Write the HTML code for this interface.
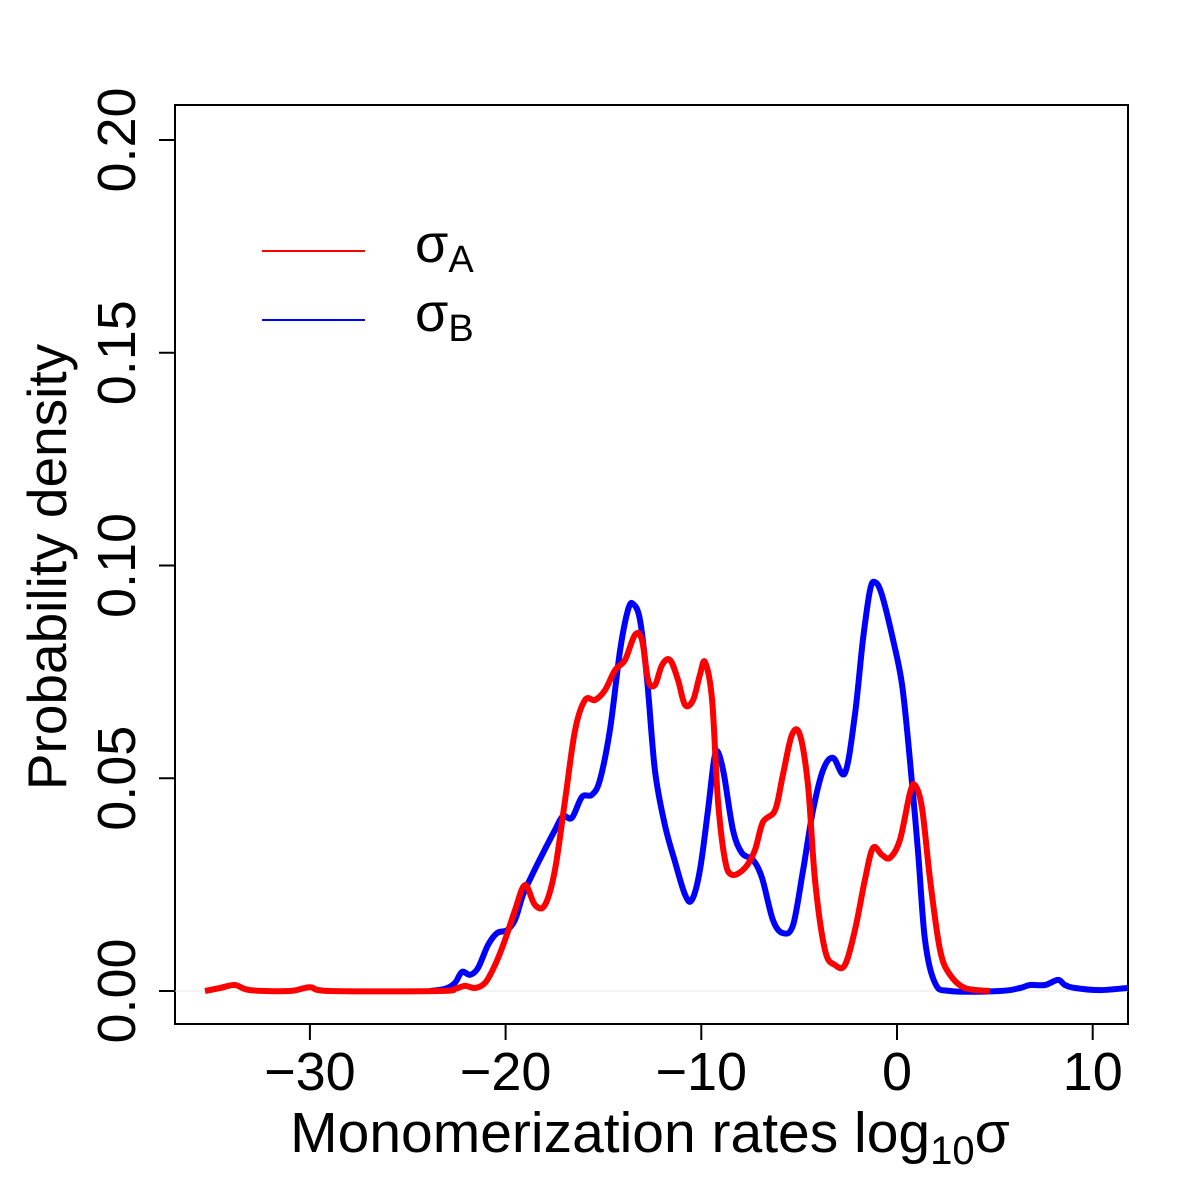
<!DOCTYPE html>
<html><head><meta charset="utf-8"><style>
html,body{margin:0;padding:0;background:#fff;}
svg{display:block;font-family:"Liberation Sans",sans-serif;}
</style></head><body>
<svg id="chart" width="1200" height="1200" viewBox="0 0 1200 1200">
<defs><clipPath id="clip"><rect x="175" y="105" width="953" height="919"/></clipPath></defs>
<rect x="175" y="105" width="953" height="919" fill="none" stroke="#000" stroke-width="2"/>
<g id="xaxis"></g>
<g id="yaxis"></g>
<line x1="175" x2="1128" y1="991" y2="991" stroke="#e6e6e6" stroke-width="1"/>
<g id="series" clip-path="url(#clip)"></g>
<text x="650" y="1152" font-size="57" text-anchor="middle">Monomerization rates log<tspan font-size="40" dy="12">10</tspan><tspan dy="-12">σ</tspan></text>
<text transform="translate(66,567) rotate(-90)" font-size="55" text-anchor="middle">Probability density</text>
<g>
<line x1="262" x2="365" y1="251" y2="251" stroke="#f00" stroke-width="2"/>
<text x="415" y="262" font-size="54">σ<tspan font-size="38" dy="10">A</tspan></text>
<line x1="262" x2="365" y1="320" y2="320" stroke="#00f" stroke-width="2"/>
<text x="415" y="331" font-size="54">σ<tspan font-size="38" dy="10">B</tspan></text>
</g>
</svg>
<script>
const xTicks=[-30,-20,-10,0,10];
const xTickLabels=["\u221230","\u221220","\u221210","0","10"];
const yTicks=[0,0.05,0.10,0.15,0.20];
const yTickLabels=["0.00","0.05","0.10","0.15","0.20"];
const redX=[-35.36,-34.59,-33.83,-33.06,-31.02,-30.0,-28.97,-23.35,-22.59,-22.07,-21.56,-21.05,-20.54,-20.03,-19.52,-19.01,-18.50,-17.99,-17.48,-16.96,-16.45,-15.94,-15.43,-14.92,-14.41,-13.90,-13.39,-13.03,-12.72,-12.37,-12.01,-11.60,-11.19,-10.83,-10.42,-10.07,-9.81,-9.45,-9.15,-8.79,-8.43,-7.77,-7.26,-6.85,-6.23,-5.83,-5.37,-4.96,-4.55,-4.19,-3.68,-3.17,-2.66,-2.15,-1.64,-1.23,-0.77,-0.36,0.15,0.66,0.92,1.28,1.69,2.20,2.71,3.47,4.75];
const redY=[0,0.0007,0.0014,0.0002,0,0.0009,0,0,0.0005,0.0012,0.0007,0.0019,0.0061,0.0120,0.0190,0.0249,0.0202,0.0202,0.0284,0.0449,0.0613,0.0684,0.0684,0.0707,0.0754,0.0778,0.0837,0.0825,0.0731,0.0719,0.0766,0.0778,0.0731,0.0672,0.0684,0.0743,0.0773,0.0684,0.0449,0.0308,0.0273,0.0289,0.0331,0.0397,0.0425,0.0508,0.0602,0.0602,0.0484,0.0261,0.0096,0.0061,0.0061,0.0143,0.0261,0.0336,0.0320,0.0313,0.0355,0.0465,0.0484,0.0430,0.0261,0.0096,0.0038,0.0007,0];
const blueX=[-23.86,-23.10,-22.59,-22.23,-21.82,-21.41,-20.90,-20.44,-19.93,-19.52,-19.11,-18.60,-18.09,-17.48,-17.07,-16.61,-16.10,-15.59,-15.18,-14.67,-14.15,-13.75,-13.49,-13.13,-12.77,-12.37,-11.86,-11.34,-10.83,-10.48,-10.07,-9.66,-9.35,-9.15,-8.84,-8.38,-7.92,-7.36,-6.90,-6.34,-5.83,-5.31,-4.80,-4.29,-3.78,-3.27,-2.66,-2.15,-1.74,-1.38,-1.12,-0.77,-0.20,0.26,0.66,1.07,1.43,1.94,2.71,5.26,6.29,6.80,7.56,8.23,8.58,9.10,10.37,11.80,12.5];
const blueY=[0,0.0005,0.0019,0.0045,0.0038,0.0054,0.0108,0.0136,0.0143,0.0167,0.0226,0.0277,0.0324,0.0378,0.0411,0.0407,0.0456,0.0461,0.0496,0.0613,0.0801,0.0895,0.0910,0.0872,0.0731,0.0519,0.0390,0.0303,0.0226,0.0214,0.0284,0.0425,0.0543,0.0562,0.0508,0.0378,0.0324,0.0308,0.0266,0.0167,0.0136,0.0155,0.0284,0.0425,0.0519,0.0548,0.0512,0.0649,0.0825,0.0942,0.0961,0.0931,0.0825,0.0719,0.0543,0.0331,0.0120,0.0019,0,0,0.0007,0.0014,0.0014,0.0026,0.0014,0.0007,0.0002,0.0007,0.0007];
const NS="http://www.w3.org/2000/svg";
function sx(v){return 897+v*19.57;}
function sy(v){return 991-v*4255;}
const xa=document.getElementById('xaxis');
xTicks.forEach((t,i)=>{
  const l=document.createElementNS(NS,'line');
  l.setAttribute('x1',sx(t));l.setAttribute('x2',sx(t));l.setAttribute('y1',1024);l.setAttribute('y2',1040);
  l.setAttribute('stroke','#000');l.setAttribute('stroke-width','2');
  
  
  xa.appendChild(l);
  const tx=document.createElementNS(NS,'text');
  tx.setAttribute('x',sx(t));tx.setAttribute('y',1090);tx.setAttribute('font-size','54');tx.setAttribute('text-anchor','middle');
  tx.textContent=xTickLabels[i];
  
  
  xa.appendChild(tx);
});
const ya=document.getElementById('yaxis');
yTicks.forEach((t,i)=>{
  const l=document.createElementNS(NS,'line');
  l.setAttribute('x1',159);l.setAttribute('x2',175);l.setAttribute('y1',sy(t));l.setAttribute('y2',sy(t));
  l.setAttribute('stroke','#000');l.setAttribute('stroke-width','2');
  
  
  ya.appendChild(l);
  const tx=document.createElementNS(NS,'text');
  tx.setAttribute('transform','translate(135,'+sy(t)+') rotate(-90)');
  tx.setAttribute('font-size','54');tx.setAttribute('text-anchor','middle');
  tx.textContent=yTickLabels[i];
  
  
  ya.appendChild(tx);
});
function pathFor(xs,ys){
  const p=xs.map((x,i)=>[sx(x),sy(ys[i])]);
  let d='M'+p[0][0].toFixed(1)+','+p[0][1].toFixed(1);
  for(let i=0;i<p.length-1;i++){
    const p0=p[Math.max(0,i-1)],p1=p[i],p2=p[i+1],p3=p[Math.min(p.length-1,i+2)];
    const c1=[p1[0]+(p2[0]-p0[0])/6,p1[1]+(p2[1]-p0[1])/6];
    const c2=[p2[0]-(p3[0]-p1[0])/6,p2[1]-(p3[1]-p1[1])/6];
    d+=' C'+c1[0].toFixed(1)+','+c1[1].toFixed(1)+' '+c2[0].toFixed(1)+','+c2[1].toFixed(1)+' '+p2[0].toFixed(1)+','+p2[1].toFixed(1);
  }
  return d;
}
const sg=document.getElementById('series');
const pb=document.createElementNS(NS,'path');
pb.setAttribute('d',pathFor(blueX,blueY));pb.setAttribute('fill','none');pb.setAttribute('stroke','#00f');pb.setAttribute('stroke-width','6');pb.setAttribute('stroke-linejoin','round');


sg.appendChild(pb);
const pr=document.createElementNS(NS,'path');
pr.setAttribute('d',pathFor(redX,redY));pr.setAttribute('fill','none');pr.setAttribute('stroke','#f00');pr.setAttribute('stroke-width','6');pr.setAttribute('stroke-linejoin','round');


sg.appendChild(pr);
</script>
</body></html>
